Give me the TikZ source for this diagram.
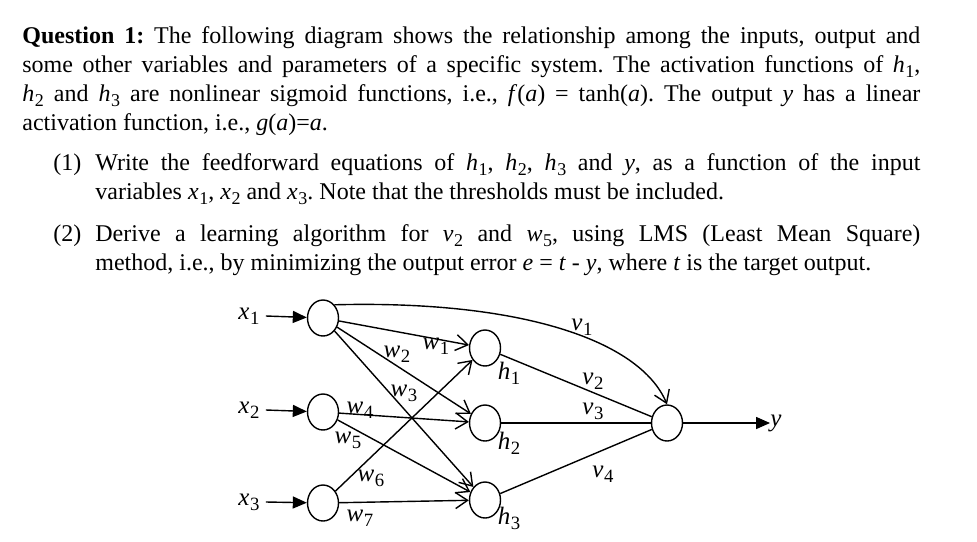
\documentclass[tikz,border=0pt]{standalone}
\usepackage{fontspec}
\setmainfont{Liberation Serif}
\usetikzlibrary{arrows.meta,shapes.geometric}
\newcommand{\vsub}[2]{\textit{#1}\kern0.3pt\raisebox{-0.2em}{\upshape\fontsize{0.75em}{1em}\selectfont #2}}
\begin{document}
\begin{tikzpicture}[x=0.5pt,y=-0.5pt,
  neuron/.style={draw,line width=0.7pt,ellipse,minimum width=15.5pt,minimum height=18pt,inner sep=0},
  para/.style={anchor=north west,inner sep=0,align=justify,font=\fontsize{12}{14.5}\selectfont\frenchspacing},
  lbl/.style={font=\fontsize{12.5}{14}\selectfont\itshape,inner sep=0},
  wire/.style={line width=0.7pt,-{Straight Barb[length=6pt,width=8pt,line width=0.7pt]}},
  inarr/.style={line width=0.7pt,-{Triangle[length=7pt,width=6pt]}},
  plain/.style={line width=0.7pt}]
\useasboundingbox (0,0) rectangle (977,541);
\node[para,text width=449pt] (p0) at (22,22.7) {\strut\textbf{Question 1:} The following diagram shows the relationship among the inputs, output and\linebreak some other variables and parameters of a specific system. The activation functions of \vsub{h}{1},\linebreak \vsub{h}{2} and \vsub{h}{3} are nonlinear sigmoid functions, i.e., \textit{f}(\textit{a}) = tanh(\textit{a}). The output \textit{y} has a linear\linebreak activation function, i.e., \textit{g}(\textit{a})=\textit{a}.};
\node[para] (n1) at (53,150) {\strut(1)};
\node[para,text width=412.5pt] (p1) at (95,150) {\strut Write the feedforward equations of \vsub{h}{1}, \vsub{h}{2}, \vsub{h}{3} and \textit{y}, as a function of the input\linebreak variables \vsub{x}{1}, \vsub{x}{2} and \vsub{x}{3}. Note that the thresholds must be included.};
\node[para] (n2) at (53,221) {\strut(2)};
\node[para,text width=412.5pt] (p2) at (95,221) {\strut Derive a learning algorithm for \vsub{v}{2} and \vsub{w}{5}, using LMS (Least Mean Square)\linebreak method, i.e., by minimizing the output error \textit{e} = \textit{t} - \textit{y}, where \textit{t} is the target output.};
% nodes
\node[neuron] (i1) at (323,318) {};
\node[neuron] (i2) at (323,412) {};
\node[neuron] (i3) at (323,503) {};
\node[neuron] (h1) at (485,348) {};
\node[neuron] (h2) at (485,423) {};
\node[neuron] (h3) at (485,500) {};
\node[neuron] (o) at (667,423) {};
\node[lbl] (x1) at (249,316) {\vsub{x}{1}};
\node[lbl] (x2) at (249,410) {\vsub{x}{2}};
\node[lbl] (x3) at (249,502) {\vsub{x}{3}};
\node[lbl] (y) at (776,423) {\textit{y}};
\draw[inarr] (x1.east)++(6,0) -- (i1);
\draw[inarr] (x2.east)++(6,0) -- (i2);
\draw[inarr] (x3.east)++(6,0) -- (i3);
\draw[inarr] (o) -- (y.west);
\draw[wire] (i1) -- (h1);
\draw[wire] (i1) -- (h2);
\draw[wire] (i1) -- (h3);
\draw[wire] (i2) -- (h2);
\draw[wire] (i2) -- (h3);
\draw[wire] (i3) -- (h1);
\draw[wire] (i3) -- (h3);
\draw[wire] (i1.north east) .. controls (520,300) and (640,340) .. (o.north);
\draw[plain] (h1) -- (o);
\draw[plain] (h2) -- (o);
\draw[plain] (h3) -- (o);
\node[lbl] (lw1) at (436,346) {\vsub{w}{1}};
\node[lbl] (lw2) at (397,354) {\vsub{w}{2}};
\node[lbl] (lw3) at (404,393) {\vsub{w}{3}};
\node[lbl] (lw4) at (360,410) {\vsub{w}{4}};
\node[lbl] (lw5) at (348,440) {\vsub{w}{5}};
\node[lbl] (lw6) at (371,478) {\vsub{w}{6}};
\node[lbl] (lw7) at (360,518) {\vsub{w}{7}};
\node[lbl] (lv1) at (582,327) {\vsub{v}{1}};
\node[lbl] (lv2) at (593,381) {\vsub{v}{2}};
\node[lbl] (lv3) at (593,411) {\vsub{v}{3}};
\node[lbl] (lv4) at (603,474) {\vsub{v}{4}};
\node[lbl] (lh1) at (509,373) {\vsub{h}{1}};
\node[lbl] (lh2) at (509,443) {\vsub{h}{2}};
\node[lbl] (lh3) at (509,518) {\vsub{h}{3}};
\end{tikzpicture}
\end{document}
